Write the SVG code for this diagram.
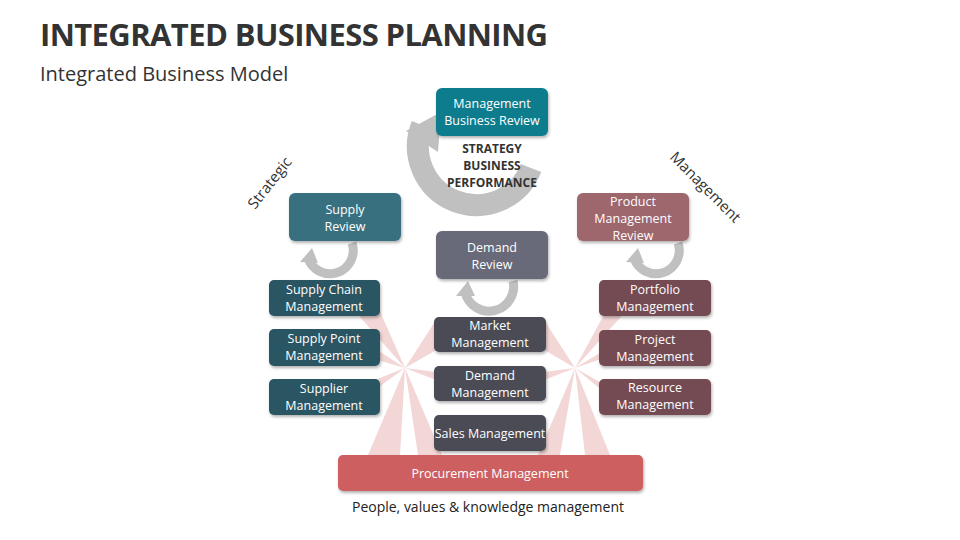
<svg xmlns="http://www.w3.org/2000/svg" width="960" height="540" viewBox="0 0 960 540">
<defs>
<filter id="sh" x="-10%" y="-10%" width="120%" height="130%"><feDropShadow dx="1" dy="2" stdDeviation="1.5" flood-opacity="0.3"/></filter>
<style>
text{font-family:"Open Sans","Liberation Sans",sans-serif}
.t{fill:#fff;font-size:12.5px;text-anchor:middle}
.ray{fill:#f3d6d6}
.arc{fill:none;stroke:#c0c0c0}
.ah{fill:#c0c0c0}
rect{filter:url(#sh)}
</style>
</defs>
<rect x="0" y="0" width="960" height="540" fill="#fff" style="filter:none"/>
<text x="40" y="46" font-size="31" font-weight="bold" fill="#333" textLength="508">INTEGRATED BUSINESS PLANNING</text>
<text x="40" y="81" font-size="20" fill="#333">Integrated Business Model</text>
<text transform="translate(255,210) rotate(-52)" font-size="15" fill="#333">Strategic</text>
<text transform="translate(669,158) rotate(45)" font-size="15" fill="#333">Management</text>

<g id="rays">
<polygon class="ray" points="405,368 345,300 375,300"/>
<polygon class="ray" points="405,368 360,355 362,340"/>
<polygon class="ray" points="405,368 362,385 365,397"/>
<polygon class="ray" points="405,368 368,455 400,455"/>
<polygon class="ray" points="405,368 418,455 442,455"/>
<polygon class="ray" points="405,368 436,320 445,345"/>
<polygon class="ray" points="405,368 436,372 436,380"/>
<polygon class="ray" points="575,368 612,300 636,300"/>
<polygon class="ray" points="575,368 605,350 610,356"/>
<polygon class="ray" points="575,368 605,385 610,397"/>
<polygon class="ray" points="575,368 610,455 585,455"/>
<polygon class="ray" points="575,368 560,455 538,455"/>
<polygon class="ray" points="575,368 544,320 536,345"/>
<polygon class="ray" points="575,368 544,372 544,380"/>
</g>

<g id="connectors">
<path class="arc" stroke-width="22" d="M531,168 A58,58 0 1 1 422,125"/>
<polygon class="ah" points="406,131 441,112 438,152"/>
<path class="arc" stroke-width="9" d="M352,243 A22,22 0 0 1 308,258"/>
<polygon class="ah" points="300,262 312,248 318,263"/>
<path class="arc" stroke-width="9" d="M513,281 A24,24 0 0 1 465,292"/>
<polygon class="ah" points="456,296 468,281 475,296"/>
<path class="arc" stroke-width="9" d="M678,243 A22,22 0 0 1 634,258"/>
<polygon class="ah" points="626,262 638,248 644,263"/>
</g>

<text x="492" y="153" font-size="12" font-weight="bold" fill="#333" text-anchor="middle">STRATEGY</text>
<text x="492" y="170" font-size="12" font-weight="bold" fill="#333" text-anchor="middle">BUSINESS</text>
<text x="492" y="187" font-size="12" font-weight="bold" fill="#333" text-anchor="middle">PERFORMANCE</text>

<g id="mbr"><rect x="436" y="88" width="112" height="48" rx="6" fill="#0e7b8d"/><text class="t" x="492" y="108">Management</text><text class="t" x="492" y="125">Business Review</text></g>
<g id="supplyReview"><rect x="289" y="193" width="112" height="48" rx="6" fill="#386f80"/><text class="t" x="345" y="214">Supply</text><text class="t" x="345" y="231">Review</text></g>
<g id="demandReview"><rect x="436" y="231" width="112" height="48" rx="6" fill="#696b79"/><text class="t" x="492" y="252">Demand</text><text class="t" x="492" y="269">Review</text></g>
<g id="productReview"><rect x="577" y="193" width="112" height="48" rx="6" fill="#9e666d"/><text class="t" x="633" y="206">Product</text><text class="t" x="633" y="223">Management</text><text class="t" x="633" y="240">Review</text></g>

<g id="supplyChain"><rect x="269" y="280" width="111" height="36" rx="5" fill="#2a5563"/><text class="t" x="324" y="294">Supply Chain</text><text class="t" x="324" y="311">Management</text></g>
<g id="supplyPoint"><rect x="269" y="329" width="111" height="37" rx="5" fill="#2a5563"/><text class="t" x="324" y="343">Supply Point</text><text class="t" x="324" y="360">Management</text></g>
<g id="supplier"><rect x="269" y="379" width="111" height="36" rx="5" fill="#2a5563"/><text class="t" x="324" y="393">Supplier</text><text class="t" x="324" y="410">Management</text></g>

<g id="market"><rect x="434" y="317" width="112" height="35" rx="5" fill="#4c4b57"/><text class="t" x="490" y="330">Market</text><text class="t" x="490" y="347">Management</text></g>
<g id="demandMgmt"><rect x="434" y="366" width="112" height="35" rx="5" fill="#4c4b57"/><text class="t" x="490" y="380">Demand</text><text class="t" x="490" y="397">Management</text></g>
<g id="sales"><rect x="434" y="415" width="112" height="36" rx="5" fill="#4c4b57"/><text class="t" x="490" y="438">Sales Management</text></g>

<g id="portfolio"><rect x="599" y="280" width="112" height="36" rx="5" fill="#744b52"/><text class="t" x="655" y="294">Portfolio</text><text class="t" x="655" y="311">Management</text></g>
<g id="project"><rect x="599" y="330" width="112" height="36" rx="5" fill="#744b52"/><text class="t" x="655" y="344">Project</text><text class="t" x="655" y="361">Management</text></g>
<g id="resource"><rect x="599" y="379" width="112" height="36" rx="5" fill="#744b52"/><text class="t" x="655" y="392">Resource</text><text class="t" x="655" y="409">Management</text></g>

<g id="procurement"><rect x="338" y="455" width="305" height="36" rx="5" fill="#cd5f61"/><text class="t" x="490" y="478">Procurement Management</text></g>
<text x="488" y="512" font-size="14" fill="#222" text-anchor="middle">People, values &amp; knowledge management</text>
</svg>
